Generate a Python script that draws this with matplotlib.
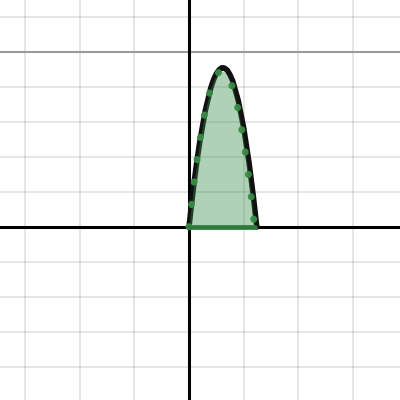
import numpy as np
import matplotlib as mpl
mpl.use('agg')
import matplotlib.pyplot as plt

# black curve
curve_x = [0, 0.05, 0.1, 0.15, 0.2, 0.3, 0.4, 0.45, 0.5, 0.55, 0.6, 0.65, 0.7, 0.75, 0.8, 0.9, 1.0, 1.1, 1.18, 1.24]
curve_y = [0, 0.70, 1.35, 1.94, 2.46, 3.34, 3.98, 4.21, 4.38, 4.49, 4.55, 4.54, 4.48, 4.35, 4.17, 3.62, 2.84, 1.82, 0.84, 0]

# green shaded region boundary (dotted)
region_x = [0, 0.05, 0.1, 0.15, 0.2, 0.3, 0.4, 0.45, 0.5, 0.55, 0.6, 0.65, 0.7, 0.75, 0.8, 0.9, 1.0, 1.1, 1.15, 1.2]
region_y = [0, 0.71, 1.36, 1.95, 2.48, 3.35, 3.97, 4.19, 4.34, 4.43, 4.46, 4.43, 4.34, 4.19, 3.97, 3.35, 2.48, 1.36, 0.71, 0]

# grid positions and the darker horizontal line
grid_x = [-3, -2, -1, 1, 2, 3]
grid_y = [-4, -3, -2, -1, 1, 2, 3, 4, 6]
hline_y = 5

green = '#388c46'

fig = plt.figure(figsize=(4, 4), dpi=100)
ax = fig.add_axes([0, 0, 1, 1])
ax.set_xlim(-3.457, 3.86)
ax.set_ylim(-4.943, 6.486)
ax.axis('off')

# grid
for gx in grid_x:
    ax.axvline(gx, color='k', alpha=0.1, lw=1.4, zorder=0)
for gy in grid_y:
    ax.axhline(gy, color='k', alpha=0.1, lw=1.4, zorder=0)
ax.axhline(hline_y, color='#9a9a9a', lw=1.5, zorder=1)

# axes
ax.axhline(0, color='k', lw=2.2, zorder=2)
ax.axvline(0, color='k', lw=2.2, zorder=2)

# curve
ax.plot(curve_x, curve_y, color='#111111', lw=4.0, zorder=3, solid_capstyle='round')

# shaded region
ax.fill_between(region_x, region_y, 0, color=green, alpha=0.4, lw=0, zorder=4)
ax.plot(region_x, region_y, color=green, lw=5.0, alpha=0.95, zorder=5,
        linestyle=(0, (0.05, 3.2)), dash_capstyle='round')
ax.plot([region_x[0], region_x[-1]], [0, 0], color='#2e7a3b', lw=3.4, zorder=5,
        solid_capstyle='round')

fig.savefig('out.png', dpi=100)
